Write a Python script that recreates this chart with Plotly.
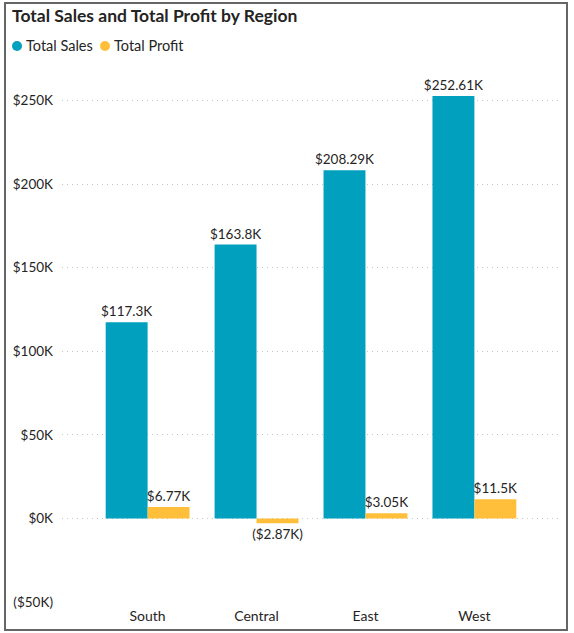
import plotly.graph_objects as go

# ----- data -----
regions = ['South', 'Central', 'East', 'West']
total_sales = [117300, 163800, 208290, 252610]
total_profit = [6770, -2870, 3050, 11500]
y_ticks = [-50000, 0, 50000, 100000, 150000, 200000, 250000]
series_names = ['Total Sales', 'Total Profit']


def fmt_k(v):
    s = f"{abs(v) / 1000:.2f}".rstrip('0').rstrip('.')
    return f"(${s}K)" if v < 0 else f"${s}K"


sales_color = '#01A0BE'
profit_color = '#FFBF3B'
text_color = '#252423'
font_family = 'Lato, Roboto, sans-serif'

# plot area in pixels: x 62..560, y 67..602
L, R, T, B = 62, 560, 67, 602


def px_x(p):
    return (p - L) / (R - L)


def px_y(p):
    return (B - p) / (B - T)


fig = go.Figure()
fig.add_trace(go.Bar(
    x=regions, y=total_sales, name=series_names[0], showlegend=False,
    marker=dict(color=sales_color, line=dict(width=0)),
    text=[fmt_k(v) for v in total_sales], textposition='outside',
    constraintext='none', textfont=dict(size=13.5, color=text_color),
    cliponaxis=False,
))
fig.add_trace(go.Bar(
    x=regions, y=total_profit, name=series_names[1], showlegend=False,
    marker=dict(color=profit_color, line=dict(width=0)),
    text=[fmt_k(v) for v in total_profit], textposition='outside',
    constraintext='none', textfont=dict(size=13.5, color=text_color),
    cliponaxis=False,
))

fig.update_layout(
    width=574, height=633,
    margin=dict(l=L, r=574 - R, t=T, b=633 - B, autoexpand=False),
    paper_bgcolor='white', plot_bgcolor='white',
    font=dict(family=font_family, size=13.5, color=text_color),
    barmode='group', bargap=0.23, bargroupgap=0,
    showlegend=False,
    title=dict(text='<b>Total Sales and Total Profit by Region</b>',
               xref='container', yref='container',
               x=12 / 574, xanchor='left', y=1 - 16 / 633, yanchor='middle',
               font=dict(size=17.5, color=text_color, family=font_family)),
)
fig.update_xaxes(range=[-0.786, 3.786], showgrid=False, showline=False, ticks='',
                 ticklabelstandoff=4, tickfont=dict(size=14, color=text_color))
fig.update_yaxes(range=[-50000, 270000], tickvals=y_ticks,
                 ticktext=[fmt_k(v).replace('.', '') for v in y_ticks],
                 showgrid=True, gridcolor='#C8C6C4', griddash='1px,4px', gridwidth=1,
                 zeroline=False, showline=False, ticks='', ticklabelstandoff=8,
                 tickfont=dict(size=13.5, color=text_color))

# legend drawn by hand: round markers close to their labels
for (cx, tx), name, col in zip([(17, 24), (105, 112)], series_names,
                               [sales_color, profit_color]):
    fig.add_shape(type='circle', xref='paper', yref='paper',
                  x0=px_x(cx - 5), x1=px_x(cx + 5), y0=px_y(46 + 5), y1=px_y(46 - 5),
                  fillcolor=col, line=dict(width=0))
    fig.add_annotation(text=name, xref='paper', yref='paper', x=px_x(tx), y=px_y(46),
                       xanchor='left', yanchor='middle', showarrow=False,
                       font=dict(size=14.5, color=text_color))

# outer frame
fig.add_shape(type='rect', xref='paper', yref='paper',
              x0=px_x(5), x1=px_x(567), y0=px_y(630), y1=px_y(3),
              line=dict(color='#666666', width=2), fillcolor='rgba(0,0,0,0)')

fig.write_html('out.html', config={'displayModeBar': False},
               post_script="document.body.style.margin='0';")
